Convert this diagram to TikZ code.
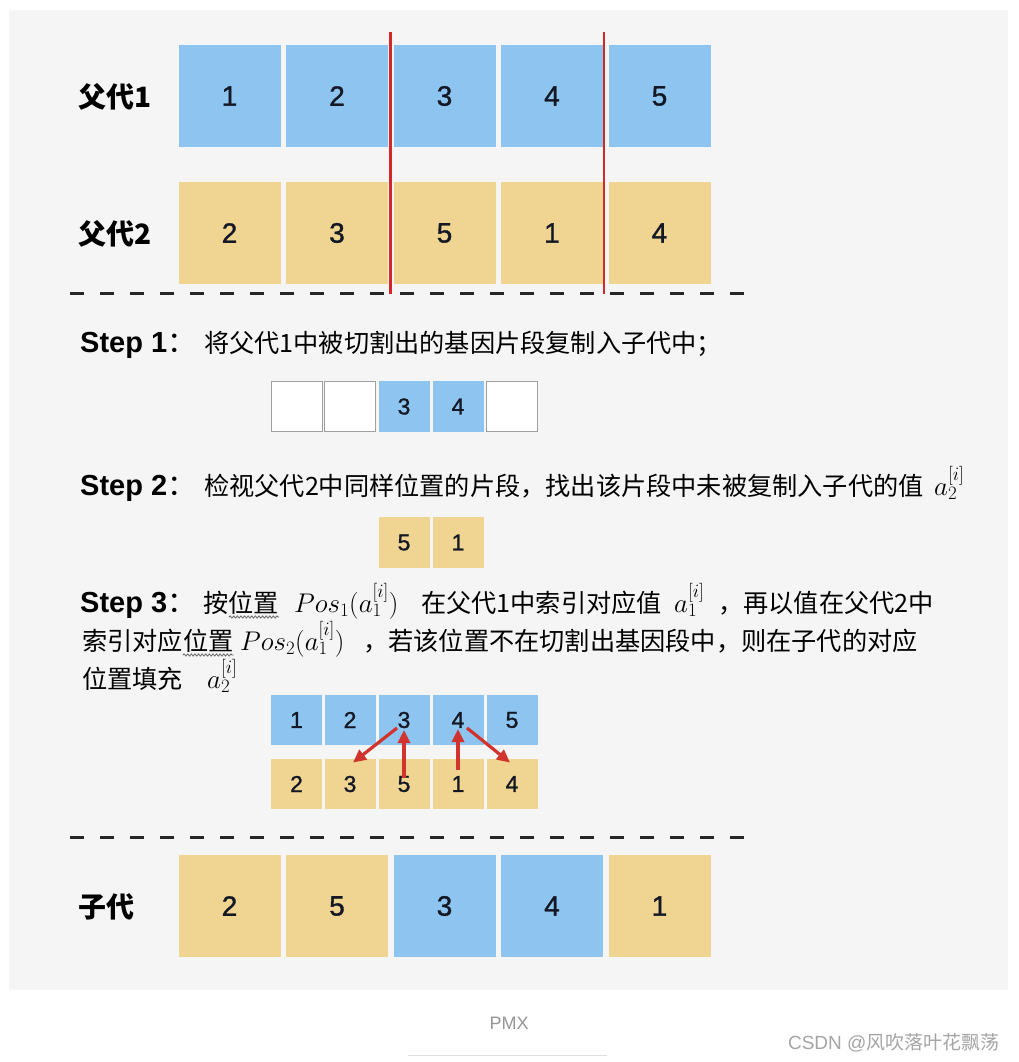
\RequirePackage{fix-cm}
\documentclass[tikz,border=0pt]{standalone}
\usepackage{fontspec}
\setmainfont{Liberation Sans}
\newfontfamily\cjk{Noto Sans CJK SC}
\newfontfamily\digitfont{Liberation Sans}[FakeBold=1.2]
\usetikzlibrary{arrows.meta,calc,decorations.pathmorphing}
\definecolor{panel}{RGB}{245,245,245}
\definecolor{blueA}{RGB}{142,197,240}
\definecolor{tanA}{RGB}{240,212,145}
\definecolor{cutred}{RGB}{210,40,40}
\definecolor{arrred}{RGB}{208,52,45}
\definecolor{digit}{RGB}{20,24,36}
\definecolor{capgray}{RGB}{150,150,150}
\definecolor{wmgray}{RGB}{165,165,165}
\begin{document}
\begin{tikzpicture}[x=1pt,y=-1pt,
  big/.style={minimum width=102pt,minimum height=102pt,inner sep=0pt,font=\digitfont\fontsize{28}{28}\selectfont,text=digit},
  small/.style={minimum width=51pt,minimum height=50.5pt,inner sep=0pt,font=\digitfont\fontsize{23}{23}\selectfont,text=digit},
  bl/.style={fill=blueA},
  tn/.style={fill=tanA},
  emptybox/.style={fill=white,draw=gray!75,line width=1pt},
  lab/.style={anchor=west,inner sep=0pt,font=\cjk\bfseries\fontsize{28}{28}\selectfont},
  stepname/.style={anchor=base west,inner sep=0pt,font=\bfseries\fontsize{29}{29}\selectfont},
  body/.style={anchor=base west,inner sep=0pt,font=\cjk\fontsize{25.2}{25.2}\selectfont},
  mth/.style={anchor=base west,inner sep=0pt,font=\fontsize{27}{27}\selectfont},
  cut/.style={cutred,line width=2.4pt},
  sep/.style={black!85,line width=3pt,dash pattern=on 14pt off 16pt},
  arr/.style={arrred,line width=3.2pt,-{Triangle[length=13pt,width=12pt]}},
  squig/.style={gray!80!black,line width=0.8pt,decorate,decoration={snake,amplitude=1.1pt,segment length=3.6pt}}
]
\useasboundingbox (0,0) rectangle (1018,1062);
\fill[white] (0,0) rectangle (1018,1062);
\fill[panel] (9,10) rectangle (1008,990);

% parent 1
\node[lab] (l1) at (78,97) {父代1};
\node[big,bl] (p1a) at (229.5,96) {1};
\node[big,bl] (p1b) at (337,96) {2};
\node[big,bl] (p1c) at (444.5,96) {3};
\node[big,bl] (p1d) at (552,96) {4};
\node[big,bl] (p1e) at (659.5,96) {5};
% parent 2
\node[lab] (l2) at (78,234) {父代2};
\node[big,tn] (p2a) at (229.5,233) {2};
\node[big,tn] (p2b) at (337,233) {3};
\node[big,tn] (p2c) at (444.5,233) {5};
\node[big,tn] (p2d) at (552,233) {1};
\node[big,tn] (p2e) at (659.5,233) {4};

% cut lines
\coordinate (caT) at (390.5,32); \coordinate (caB) at (390.5,294);
\coordinate (cbT) at (604,32); \coordinate (cbB) at (604,294);
\draw[cut] (caT) -- (caB);
\draw[cut] (cbT) -- (cbB);

% separator 1
\coordinate (d1L) at (70,293); \coordinate (d1R) at (756,293);
\draw[sep] (d1L) -- (d1R);

% step 1
\node[stepname] (st1) at (80,352) {Step 1{\cjk\mdseries ：}};
\node[body] (tx1) at (204,352) {将父代1中被切割出的基因片段复制入子代中；};
\node[small,emptybox] (e1) at (296.5,406.5) {};
\node[small,emptybox] (e2) at (350,406.5) {};
\node[small,bl] (e3) at (404,406.5) {3};
\node[small,bl] (e4) at (458,406.5) {4};
\node[small,emptybox] (e5) at (512,406.5) {};

% step 2
\node[stepname] (st2) at (80,495) {Step 2{\cjk\mdseries ：}};
\node[body] (tx2) at (204,495) {检视父代2中同样位置的片段，找出该片段中未被复制入子代的值};
\node[mth] (tx2m) at (934,495) {$a_2^{[i]}$};
\node[small,tn] (f3) at (404,542.5) {5};
\node[small,tn] (f4) at (458,542.5) {1};

% step 3
\node[stepname] (st3) at (80,612) {Step 3{\cjk\mdseries ：}};
\node[body] (t3a) at (203,612) {按位置};
\node[mth] (t3b) at (294,612) {$Pos_1(a_1^{[i]})$};
\node[body] (t3c) at (421,612) {在父代1中索引对应值};
\node[mth] (t3d) at (674,612) {$a_1^{[i]}$};
\node[body] (t3e) at (718,612) {，再以值在父代2中};
\node[body] (t3f) at (82,650) {索引对应位置};
\node[mth] (t3g) at (240,650) {$Pos_2(a_1^{[i]})$};
\node[body] (t3h) at (363,650) {，若该位置不在切割出基因段中，则在子代的对应};
\node[body] (t3i) at (82,688) {位置填充};
\node[mth] (t3j) at (207,688) {$a_2^{[i]}$};
\draw[squig] ($(t3a.base west)+(26,5)$) -- ($(t3a.base east)+(0,5)$);
\draw[squig] ($(t3f.base west)+(101,5)$) -- ($(t3f.base east)+(0,5)$);

\node[small,bl] (t1) at (296.5,720) {1};
\node[small,bl] (t2) at (350,720) {2};
\node[small,bl] (t3) at (404,720) {3};
\node[small,bl] (t4) at (458,720) {4};
\node[small,bl] (t5) at (512,720) {5};
\node[small,tn] (b1) at (296.5,784) {2};
\node[small,tn] (b2) at (350,784) {3};
\node[small,tn] (b3) at (404,784) {5};
\node[small,tn] (b4) at (458,784) {1};
\node[small,tn] (b5) at (512,784) {4};
\draw[arr] ($(t3.center)+(-7,8)$) -- ($(b2.north)+(3,4)$);
\draw[arr] ($(b3.center)+(0,-6)$) -- ($(t3.center)+(0,10)$);
\draw[arr] ($(b4.center)+(0,-14)$) -- ($(t4.center)+(0,9)$);
\draw[arr] ($(t4.center)+(9,8)$) -- ($(b5.north)+(-2,4)$);

% separator 2
\coordinate (d2L) at (70,837); \coordinate (d2R) at (756,837);
\draw[sep] (d2L) -- (d2R);

% child
\node[lab] (l3) at (78,907) {子代};
\node[big,tn] (c1) at (229.5,906) {2};
\node[big,tn] (c2) at (337,906) {5};
\node[big,bl] (c3) at (444.5,906) {3};
\node[big,bl] (c4) at (552,906) {4};
\node[big,tn] (c5) at (659.5,906) {1};

% caption
\node[text=capgray,font=\fontsize{18}{18}\selectfont] (cap) at (509,1023) {PMX};
\node[anchor=east,text=wmgray,font=\fontsize{19}{19}\selectfont] (wm) at (1003,1043) {CSDN @{\cjk 风吹落叶花飘荡}};
\coordinate (hlL) at (408,1055); \coordinate (hlR) at (607,1055);
\draw[black!12,line width=1pt] (hlL) -- (hlR);
\end{tikzpicture}
\end{document}
